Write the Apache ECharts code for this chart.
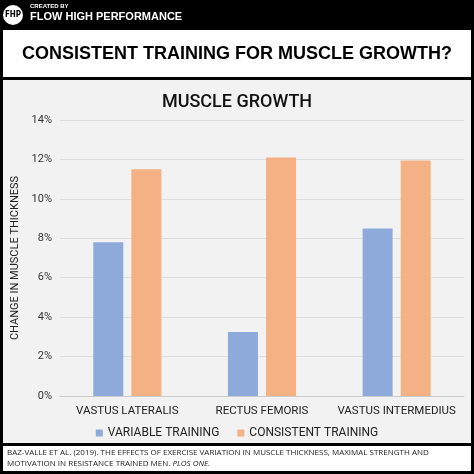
<!DOCTYPE html>
<html>
<head>
<meta charset="utf-8">
<script src="https://cdn.jsdelivr.net/npm/echarts@6/dist/echarts.min.js"></script>
<style>
  html, body { margin: 0; padding: 0; background: #000; }
  #chart { width: 474px; height: 474px; }
</style>
</head>
<body>
<div id="chart"></div>
<script>
var categories = ['VASTUS LATERALIS', 'RECTUS FEMORIS', 'VASTUS INTERMEDIUS'];
var variableValues = [7.8, 3.25, 8.5];
var consistentValues = [11.5, 12.1, 11.95];
var seriesNames = ['VARIABLE TRAINING', 'CONSISTENT TRAINING'];

var chart = echarts.init(document.getElementById('chart'));

var option = {
    backgroundColor: '#000',
    animation: false,
    graphic: [
        { type: 'circle', shape: { cx: 13, cy: 15, r: 10 }, style: { fill: '#fff' } },
        { type: 'text', x: 13, y: 15, style: { text: 'FHP', fill: '#000', font: 'bold 8px "DejaVu Sans Condensed"', align: 'center', verticalAlign: 'middle' } },
        { type: 'text', left: 30, top: 3, style: { text: 'CREATED BY', fill: '#fff', font: 'bold 6px "Liberation Sans"' } },
        { type: 'text', left: 30, top: 11, style: { text: 'FLOW HIGH PERFORMANCE', fill: '#fff', font: 'bold 11px "Liberation Sans"' } },
        { type: 'rect', shape: { x: 3, y: 30, width: 468, height: 47 }, style: { fill: '#fff' } },
        { type: 'text', x: 237, y: 54, style: { text: 'CONSISTENT TRAINING FOR MUSCLE GROWTH?', fill: '#000', font: 'bold 18px "Liberation Sans"', align: 'center', verticalAlign: 'middle' } },
        { type: 'rect', z: -10, shape: { x: 3, y: 80, width: 468, height: 363 }, style: { fill: '#f2f2f2' } },
        { type: 'rect', shape: { x: 3, y: 446, width: 468, height: 25 }, style: { fill: '#fff' } },
        { type: 'text', left: 7, top: 449, style: { text: 'BAZ-VALLE ET AL. (2019). THE EFFECTS OF EXERCISE VARIATION IN MUSCLE THICKNESS, MAXIMAL STRENGTH AND', fill: '#222', font: '8px "Open Sans"' } },
        { type: 'text', left: 7, top: 460, style: { rich: { n: { fill: '#222', font: '8px "Open Sans"' }, i: { fill: '#222', font: 'italic 8px "Open Sans"' } }, text: '{n|MOTIVATION IN RESISTANCE TRAINED MEN. }{i|PLOS ONE.}' } }
    ],
    title: {
        text: 'MUSCLE GROWTH',
        left: 'center',
        top: 88,
        textStyle: { fontFamily: 'Roboto', fontSize: 18, fontWeight: 500, color: '#111' }
    },
    legend: {
        data: seriesNames,
        bottom: 30,
        itemWidth: 7,
        itemHeight: 7,
        itemGap: 18,
        icon: 'rect',
        textStyle: { fontFamily: 'Roboto', fontSize: 12, color: '#222' }
    },
    grid: { left: 60, right: 10, top: 120, bottom: 78 },
    xAxis: {
        type: 'category',
        data: categories,
        axisTick: { show: false },
        axisLine: { lineStyle: { color: '#ccc' } },
        axisLabel: { interval: 0, fontFamily: 'Roboto', fontSize: 11.5, color: '#222', margin: 9 }
    },
    yAxis: {
        type: 'value',
        min: 0,
        max: 14,
        interval: 2,
        name: 'CHANGE IN MUSCLE THICKNESS',
        nameLocation: 'middle',
        nameGap: 36,
        nameTextStyle: { fontFamily: 'Roboto', fontSize: 11, color: '#222' },
        axisLabel: { formatter: '{value}%', fontFamily: 'Roboto', fontSize: 11, color: '#333' },
        splitLine: { lineStyle: { color: '#ddd' } }
    },
    series: [
        { name: seriesNames[0], type: 'bar', data: variableValues, barWidth: 30, barGap: '27%', itemStyle: { color: '#8eaadb' } },
        { name: seriesNames[1], type: 'bar', data: consistentValues, barWidth: 30, itemStyle: { color: '#f4b183' } }
    ]
};

chart.setOption(option);
</script>
</body>
</html>
